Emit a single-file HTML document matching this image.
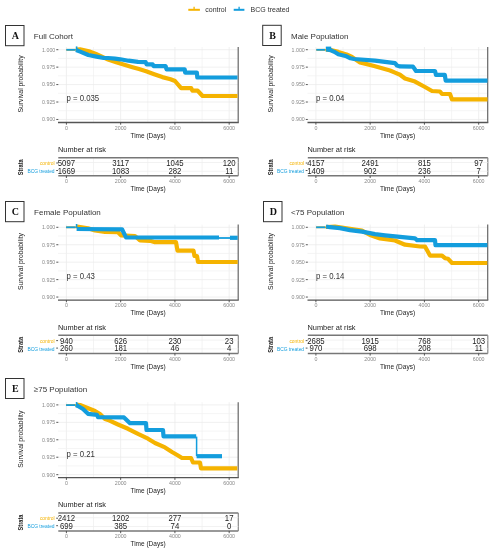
<!DOCTYPE html>
<html><head><meta charset="utf-8"><style>
html,body{margin:0;padding:0;background:#fff;width:493px;height:550px;overflow:hidden}
svg{display:block;filter:blur(0.3px)}

</style></head><body>
<svg width="493" height="550" viewBox="0 0 493 550">
<rect width="493" height="550" fill="#fff"/>
<line x1="188.3" y1="9.8" x2="199.9" y2="9.8" stroke="#f5b300" stroke-width="2"/>
<line x1="194.1" y1="6.8" x2="194.1" y2="9.8" stroke="#f5b300" stroke-width="1.3"/>
<text x="205.3" y="12.3" font-size="7" fill="#333" text-anchor="start" font-weight="normal" font-family='"Liberation Sans", sans-serif' >control</text>
<line x1="233.7" y1="9.8" x2="244.4" y2="9.8" stroke="#139ddd" stroke-width="2"/>
<line x1="239.1" y1="6.8" x2="239.1" y2="9.8" stroke="#139ddd" stroke-width="1.3"/>
<text x="250.6" y="12.3" font-size="7" fill="#333" text-anchor="start" font-weight="normal" font-family='"Liberation Sans", sans-serif' >BCG treated</text>
<line x1="66.4" y1="47" x2="66.4" y2="122.5" stroke="#e9e9e9" stroke-width="0.7"/>
<line x1="93.53" y1="47" x2="93.53" y2="122.5" stroke="#f0f0f0" stroke-width="0.7"/>
<line x1="120.66" y1="47" x2="120.66" y2="122.5" stroke="#e9e9e9" stroke-width="0.7"/>
<line x1="147.79" y1="47" x2="147.79" y2="122.5" stroke="#f0f0f0" stroke-width="0.7"/>
<line x1="174.92" y1="47" x2="174.92" y2="122.5" stroke="#e9e9e9" stroke-width="0.7"/>
<line x1="202.05" y1="47" x2="202.05" y2="122.5" stroke="#f0f0f0" stroke-width="0.7"/>
<line x1="229.18" y1="47" x2="229.18" y2="122.5" stroke="#e9e9e9" stroke-width="0.7"/>
<line x1="58" y1="49.7" x2="238.2" y2="49.7" stroke="#e9e9e9" stroke-width="0.7"/>
<line x1="58" y1="67.14" x2="238.2" y2="67.14" stroke="#e9e9e9" stroke-width="0.7"/>
<line x1="58" y1="84.58" x2="238.2" y2="84.58" stroke="#e9e9e9" stroke-width="0.7"/>
<line x1="58" y1="102.02" x2="238.2" y2="102.02" stroke="#e9e9e9" stroke-width="0.7"/>
<line x1="58" y1="119.46" x2="238.2" y2="119.46" stroke="#e9e9e9" stroke-width="0.7"/>
<line x1="58" y1="58.42" x2="238.2" y2="58.42" stroke="#f0f0f0" stroke-width="0.7"/>
<line x1="58" y1="75.86" x2="238.2" y2="75.86" stroke="#f0f0f0" stroke-width="0.7"/>
<line x1="58" y1="93.3" x2="238.2" y2="93.3" stroke="#f0f0f0" stroke-width="0.7"/>
<line x1="58" y1="110.74" x2="238.2" y2="110.74" stroke="#f0f0f0" stroke-width="0.7"/>
<line x1="58" y1="122.5" x2="238.8" y2="122.5" stroke="#555" stroke-width="1.3"/>
<line x1="238.2" y1="47" x2="238.2" y2="122.5" stroke="#666" stroke-width="1.2"/>
<line x1="56.3" y1="49.7" x2="58.3" y2="49.7" stroke="#444" stroke-width="0.9"/>
<text x="55.3" y="51.6" font-size="5.3" fill="#888" text-anchor="end" font-weight="normal" font-family='"Liberation Sans", sans-serif' >1.000</text>
<line x1="56.3" y1="67.14" x2="58.3" y2="67.14" stroke="#444" stroke-width="0.9"/>
<text x="55.3" y="69.04" font-size="5.3" fill="#888" text-anchor="end" font-weight="normal" font-family='"Liberation Sans", sans-serif' >0.975</text>
<line x1="56.3" y1="84.58" x2="58.3" y2="84.58" stroke="#444" stroke-width="0.9"/>
<text x="55.3" y="86.48" font-size="5.3" fill="#888" text-anchor="end" font-weight="normal" font-family='"Liberation Sans", sans-serif' >0.950</text>
<line x1="56.3" y1="102.02" x2="58.3" y2="102.02" stroke="#444" stroke-width="0.9"/>
<text x="55.3" y="103.92" font-size="5.3" fill="#888" text-anchor="end" font-weight="normal" font-family='"Liberation Sans", sans-serif' >0.925</text>
<line x1="56.3" y1="119.46" x2="58.3" y2="119.46" stroke="#444" stroke-width="0.9"/>
<text x="55.3" y="121.36" font-size="5.3" fill="#888" text-anchor="end" font-weight="normal" font-family='"Liberation Sans", sans-serif' >0.900</text>
<line x1="66.4" y1="122.5" x2="66.4" y2="124.7" stroke="#444" stroke-width="0.9"/>
<text x="66.4" y="129.8" font-size="5.3" fill="#888" text-anchor="middle" font-weight="normal" font-family='"Liberation Sans", sans-serif' >0</text>
<line x1="120.66" y1="122.5" x2="120.66" y2="124.7" stroke="#444" stroke-width="0.9"/>
<text x="120.66" y="129.8" font-size="5.3" fill="#888" text-anchor="middle" font-weight="normal" font-family='"Liberation Sans", sans-serif' >2000</text>
<line x1="174.92" y1="122.5" x2="174.92" y2="124.7" stroke="#444" stroke-width="0.9"/>
<text x="174.92" y="129.8" font-size="5.3" fill="#888" text-anchor="middle" font-weight="normal" font-family='"Liberation Sans", sans-serif' >4000</text>
<line x1="229.18" y1="122.5" x2="229.18" y2="124.7" stroke="#444" stroke-width="0.9"/>
<text x="229.18" y="129.8" font-size="5.3" fill="#888" text-anchor="middle" font-weight="normal" font-family='"Liberation Sans", sans-serif' >6000</text>
<text x="148" y="137.8" font-size="6.5" fill="#222" text-anchor="middle" font-weight="normal" font-family='"Liberation Sans", sans-serif' >Time (Days)</text>
<text transform="translate(23.2,84) rotate(-90)" font-size="6.8" fill="#1a1a1a" text-anchor="middle" font-family='"Liberation Sans", sans-serif'>Survival probability</text>
<text transform="translate(66.5,101.3) scale(1,1.12)" font-size="7.8" fill="#333" text-anchor="start" font-weight="normal" font-family='"Liberation Sans", sans-serif' >p = 0.035</text>
<text transform="translate(58,151.9) scale(1,1.08)" font-size="7.4" fill="#222" text-anchor="start" font-weight="normal" font-family='"Liberation Sans", sans-serif' >Number at risk</text>
<line x1="66.4" y1="157.7" x2="66.4" y2="175.8" stroke="#eeeeee" stroke-width="0.7"/>
<line x1="93.53" y1="157.7" x2="93.53" y2="175.8" stroke="#eeeeee" stroke-width="0.7"/>
<line x1="120.66" y1="157.7" x2="120.66" y2="175.8" stroke="#eeeeee" stroke-width="0.7"/>
<line x1="147.79" y1="157.7" x2="147.79" y2="175.8" stroke="#eeeeee" stroke-width="0.7"/>
<line x1="174.92" y1="157.7" x2="174.92" y2="175.8" stroke="#eeeeee" stroke-width="0.7"/>
<line x1="202.05" y1="157.7" x2="202.05" y2="175.8" stroke="#eeeeee" stroke-width="0.7"/>
<line x1="229.18" y1="157.7" x2="229.18" y2="175.8" stroke="#eeeeee" stroke-width="0.7"/>
<line x1="58.3" y1="157.7" x2="238.3" y2="157.7" stroke="#777" stroke-width="1.5"/>
<line x1="58.3" y1="175.8" x2="238.3" y2="175.8" stroke="#777" stroke-width="1.5"/>
<line x1="238.3" y1="157.7" x2="238.3" y2="175.8" stroke="#888" stroke-width="1.2"/>
<line x1="58.3" y1="162.5" x2="238.3" y2="162.5" stroke="#ededed" stroke-width="0.7"/>
<line x1="58.3" y1="171.3" x2="238.3" y2="171.3" stroke="#ededed" stroke-width="0.7"/>
<line x1="56.2" y1="163" x2="58" y2="163" stroke="#444" stroke-width="0.9"/>
<text transform="translate(66.4,166) scale(1,1.13)" font-size="7.8" fill="#222" text-anchor="middle" font-weight="normal" font-family='"Liberation Sans", sans-serif' >5097</text>
<text transform="translate(120.66,166) scale(1,1.13)" font-size="7.8" fill="#222" text-anchor="middle" font-weight="normal" font-family='"Liberation Sans", sans-serif' >3117</text>
<text transform="translate(174.92,166) scale(1,1.13)" font-size="7.8" fill="#222" text-anchor="middle" font-weight="normal" font-family='"Liberation Sans", sans-serif' >1045</text>
<text transform="translate(229.18,166) scale(1,1.13)" font-size="7.8" fill="#222" text-anchor="middle" font-weight="normal" font-family='"Liberation Sans", sans-serif' >120</text>
<line x1="56.2" y1="170.5" x2="58" y2="170.5" stroke="#444" stroke-width="0.9"/>
<text transform="translate(66.4,173.5) scale(1,1.13)" font-size="7.8" fill="#222" text-anchor="middle" font-weight="normal" font-family='"Liberation Sans", sans-serif' >1669</text>
<text transform="translate(120.66,173.5) scale(1,1.13)" font-size="7.8" fill="#222" text-anchor="middle" font-weight="normal" font-family='"Liberation Sans", sans-serif' >1083</text>
<text transform="translate(174.92,173.5) scale(1,1.13)" font-size="7.8" fill="#222" text-anchor="middle" font-weight="normal" font-family='"Liberation Sans", sans-serif' >282</text>
<text transform="translate(229.18,173.5) scale(1,1.13)" font-size="7.8" fill="#222" text-anchor="middle" font-weight="normal" font-family='"Liberation Sans", sans-serif' >11</text>
<text x="54.6" y="164.95" font-size="4.9" fill="#f5b300" text-anchor="end" font-weight="normal" font-family='"Liberation Sans", sans-serif' >control</text>
<text x="54.6" y="173.25" font-size="4.9" fill="#139ddd" text-anchor="end" font-weight="normal" font-family='"Liberation Sans", sans-serif' >BCG treated</text>
<text transform="translate(23.4,167.3) rotate(-90) scale(1,1.22)" font-size="5.6" fill="#222" text-anchor="middle" font-weight="bold" font-family='"Liberation Sans", sans-serif'>Strata</text>
<line x1="66.4" y1="175.8" x2="66.4" y2="178" stroke="#444" stroke-width="0.9"/>
<text x="66.4" y="183" font-size="5.3" fill="#888" text-anchor="middle" font-weight="normal" font-family='"Liberation Sans", sans-serif' >0</text>
<line x1="120.66" y1="175.8" x2="120.66" y2="178" stroke="#444" stroke-width="0.9"/>
<text x="120.66" y="183" font-size="5.3" fill="#888" text-anchor="middle" font-weight="normal" font-family='"Liberation Sans", sans-serif' >2000</text>
<line x1="174.92" y1="175.8" x2="174.92" y2="178" stroke="#444" stroke-width="0.9"/>
<text x="174.92" y="183" font-size="5.3" fill="#888" text-anchor="middle" font-weight="normal" font-family='"Liberation Sans", sans-serif' >4000</text>
<line x1="229.18" y1="175.8" x2="229.18" y2="178" stroke="#444" stroke-width="0.9"/>
<text x="229.18" y="183" font-size="5.3" fill="#888" text-anchor="middle" font-weight="normal" font-family='"Liberation Sans", sans-serif' >6000</text>
<text x="148" y="191.1" font-size="6.5" fill="#222" text-anchor="middle" font-weight="normal" font-family='"Liberation Sans", sans-serif' >Time (Days)</text>
<line x1="315.9" y1="47" x2="315.9" y2="122.5" stroke="#e9e9e9" stroke-width="0.7"/>
<line x1="343.03" y1="47" x2="343.03" y2="122.5" stroke="#f0f0f0" stroke-width="0.7"/>
<line x1="370.16" y1="47" x2="370.16" y2="122.5" stroke="#e9e9e9" stroke-width="0.7"/>
<line x1="397.29" y1="47" x2="397.29" y2="122.5" stroke="#f0f0f0" stroke-width="0.7"/>
<line x1="424.42" y1="47" x2="424.42" y2="122.5" stroke="#e9e9e9" stroke-width="0.7"/>
<line x1="451.55" y1="47" x2="451.55" y2="122.5" stroke="#f0f0f0" stroke-width="0.7"/>
<line x1="478.68" y1="47" x2="478.68" y2="122.5" stroke="#e9e9e9" stroke-width="0.7"/>
<line x1="307.5" y1="49.7" x2="487.7" y2="49.7" stroke="#e9e9e9" stroke-width="0.7"/>
<line x1="307.5" y1="67.14" x2="487.7" y2="67.14" stroke="#e9e9e9" stroke-width="0.7"/>
<line x1="307.5" y1="84.58" x2="487.7" y2="84.58" stroke="#e9e9e9" stroke-width="0.7"/>
<line x1="307.5" y1="102.02" x2="487.7" y2="102.02" stroke="#e9e9e9" stroke-width="0.7"/>
<line x1="307.5" y1="119.46" x2="487.7" y2="119.46" stroke="#e9e9e9" stroke-width="0.7"/>
<line x1="307.5" y1="58.42" x2="487.7" y2="58.42" stroke="#f0f0f0" stroke-width="0.7"/>
<line x1="307.5" y1="75.86" x2="487.7" y2="75.86" stroke="#f0f0f0" stroke-width="0.7"/>
<line x1="307.5" y1="93.3" x2="487.7" y2="93.3" stroke="#f0f0f0" stroke-width="0.7"/>
<line x1="307.5" y1="110.74" x2="487.7" y2="110.74" stroke="#f0f0f0" stroke-width="0.7"/>
<line x1="307.5" y1="122.5" x2="488.3" y2="122.5" stroke="#555" stroke-width="1.3"/>
<line x1="487.7" y1="47" x2="487.7" y2="122.5" stroke="#666" stroke-width="1.2"/>
<line x1="305.8" y1="49.7" x2="307.8" y2="49.7" stroke="#444" stroke-width="0.9"/>
<text x="304.8" y="51.6" font-size="5.3" fill="#888" text-anchor="end" font-weight="normal" font-family='"Liberation Sans", sans-serif' >1.000</text>
<line x1="305.8" y1="67.14" x2="307.8" y2="67.14" stroke="#444" stroke-width="0.9"/>
<text x="304.8" y="69.04" font-size="5.3" fill="#888" text-anchor="end" font-weight="normal" font-family='"Liberation Sans", sans-serif' >0.975</text>
<line x1="305.8" y1="84.58" x2="307.8" y2="84.58" stroke="#444" stroke-width="0.9"/>
<text x="304.8" y="86.48" font-size="5.3" fill="#888" text-anchor="end" font-weight="normal" font-family='"Liberation Sans", sans-serif' >0.950</text>
<line x1="305.8" y1="102.02" x2="307.8" y2="102.02" stroke="#444" stroke-width="0.9"/>
<text x="304.8" y="103.92" font-size="5.3" fill="#888" text-anchor="end" font-weight="normal" font-family='"Liberation Sans", sans-serif' >0.925</text>
<line x1="305.8" y1="119.46" x2="307.8" y2="119.46" stroke="#444" stroke-width="0.9"/>
<text x="304.8" y="121.36" font-size="5.3" fill="#888" text-anchor="end" font-weight="normal" font-family='"Liberation Sans", sans-serif' >0.900</text>
<line x1="315.9" y1="122.5" x2="315.9" y2="124.7" stroke="#444" stroke-width="0.9"/>
<text x="315.9" y="129.8" font-size="5.3" fill="#888" text-anchor="middle" font-weight="normal" font-family='"Liberation Sans", sans-serif' >0</text>
<line x1="370.16" y1="122.5" x2="370.16" y2="124.7" stroke="#444" stroke-width="0.9"/>
<text x="370.16" y="129.8" font-size="5.3" fill="#888" text-anchor="middle" font-weight="normal" font-family='"Liberation Sans", sans-serif' >2000</text>
<line x1="424.42" y1="122.5" x2="424.42" y2="124.7" stroke="#444" stroke-width="0.9"/>
<text x="424.42" y="129.8" font-size="5.3" fill="#888" text-anchor="middle" font-weight="normal" font-family='"Liberation Sans", sans-serif' >4000</text>
<line x1="478.68" y1="122.5" x2="478.68" y2="124.7" stroke="#444" stroke-width="0.9"/>
<text x="478.68" y="129.8" font-size="5.3" fill="#888" text-anchor="middle" font-weight="normal" font-family='"Liberation Sans", sans-serif' >6000</text>
<text x="397.5" y="137.8" font-size="6.5" fill="#222" text-anchor="middle" font-weight="normal" font-family='"Liberation Sans", sans-serif' >Time (Days)</text>
<text transform="translate(272.7,84) rotate(-90)" font-size="6.8" fill="#1a1a1a" text-anchor="middle" font-family='"Liberation Sans", sans-serif'>Survival probability</text>
<text transform="translate(316,101.3) scale(1,1.12)" font-size="7.8" fill="#333" text-anchor="start" font-weight="normal" font-family='"Liberation Sans", sans-serif' >p = 0.04</text>
<text transform="translate(307.5,151.9) scale(1,1.08)" font-size="7.4" fill="#222" text-anchor="start" font-weight="normal" font-family='"Liberation Sans", sans-serif' >Number at risk</text>
<line x1="315.9" y1="157.7" x2="315.9" y2="175.8" stroke="#eeeeee" stroke-width="0.7"/>
<line x1="343.03" y1="157.7" x2="343.03" y2="175.8" stroke="#eeeeee" stroke-width="0.7"/>
<line x1="370.16" y1="157.7" x2="370.16" y2="175.8" stroke="#eeeeee" stroke-width="0.7"/>
<line x1="397.29" y1="157.7" x2="397.29" y2="175.8" stroke="#eeeeee" stroke-width="0.7"/>
<line x1="424.42" y1="157.7" x2="424.42" y2="175.8" stroke="#eeeeee" stroke-width="0.7"/>
<line x1="451.55" y1="157.7" x2="451.55" y2="175.8" stroke="#eeeeee" stroke-width="0.7"/>
<line x1="478.68" y1="157.7" x2="478.68" y2="175.8" stroke="#eeeeee" stroke-width="0.7"/>
<line x1="307.8" y1="157.7" x2="487.8" y2="157.7" stroke="#777" stroke-width="1.5"/>
<line x1="307.8" y1="175.8" x2="487.8" y2="175.8" stroke="#777" stroke-width="1.5"/>
<line x1="487.8" y1="157.7" x2="487.8" y2="175.8" stroke="#888" stroke-width="1.2"/>
<line x1="307.8" y1="162.5" x2="487.8" y2="162.5" stroke="#ededed" stroke-width="0.7"/>
<line x1="307.8" y1="171.3" x2="487.8" y2="171.3" stroke="#ededed" stroke-width="0.7"/>
<line x1="305.7" y1="163" x2="307.5" y2="163" stroke="#444" stroke-width="0.9"/>
<text transform="translate(315.9,166) scale(1,1.13)" font-size="7.8" fill="#222" text-anchor="middle" font-weight="normal" font-family='"Liberation Sans", sans-serif' >4157</text>
<text transform="translate(370.16,166) scale(1,1.13)" font-size="7.8" fill="#222" text-anchor="middle" font-weight="normal" font-family='"Liberation Sans", sans-serif' >2491</text>
<text transform="translate(424.42,166) scale(1,1.13)" font-size="7.8" fill="#222" text-anchor="middle" font-weight="normal" font-family='"Liberation Sans", sans-serif' >815</text>
<text transform="translate(478.68,166) scale(1,1.13)" font-size="7.8" fill="#222" text-anchor="middle" font-weight="normal" font-family='"Liberation Sans", sans-serif' >97</text>
<line x1="305.7" y1="170.5" x2="307.5" y2="170.5" stroke="#444" stroke-width="0.9"/>
<text transform="translate(315.9,173.5) scale(1,1.13)" font-size="7.8" fill="#222" text-anchor="middle" font-weight="normal" font-family='"Liberation Sans", sans-serif' >1409</text>
<text transform="translate(370.16,173.5) scale(1,1.13)" font-size="7.8" fill="#222" text-anchor="middle" font-weight="normal" font-family='"Liberation Sans", sans-serif' >902</text>
<text transform="translate(424.42,173.5) scale(1,1.13)" font-size="7.8" fill="#222" text-anchor="middle" font-weight="normal" font-family='"Liberation Sans", sans-serif' >236</text>
<text transform="translate(478.68,173.5) scale(1,1.13)" font-size="7.8" fill="#222" text-anchor="middle" font-weight="normal" font-family='"Liberation Sans", sans-serif' >7</text>
<text x="304.1" y="164.95" font-size="4.9" fill="#f5b300" text-anchor="end" font-weight="normal" font-family='"Liberation Sans", sans-serif' >control</text>
<text x="304.1" y="173.25" font-size="4.9" fill="#139ddd" text-anchor="end" font-weight="normal" font-family='"Liberation Sans", sans-serif' >BCG treated</text>
<text transform="translate(272.9,167.3) rotate(-90) scale(1,1.22)" font-size="5.6" fill="#222" text-anchor="middle" font-weight="bold" font-family='"Liberation Sans", sans-serif'>Strata</text>
<line x1="315.9" y1="175.8" x2="315.9" y2="178" stroke="#444" stroke-width="0.9"/>
<text x="315.9" y="183" font-size="5.3" fill="#888" text-anchor="middle" font-weight="normal" font-family='"Liberation Sans", sans-serif' >0</text>
<line x1="370.16" y1="175.8" x2="370.16" y2="178" stroke="#444" stroke-width="0.9"/>
<text x="370.16" y="183" font-size="5.3" fill="#888" text-anchor="middle" font-weight="normal" font-family='"Liberation Sans", sans-serif' >2000</text>
<line x1="424.42" y1="175.8" x2="424.42" y2="178" stroke="#444" stroke-width="0.9"/>
<text x="424.42" y="183" font-size="5.3" fill="#888" text-anchor="middle" font-weight="normal" font-family='"Liberation Sans", sans-serif' >4000</text>
<line x1="478.68" y1="175.8" x2="478.68" y2="178" stroke="#444" stroke-width="0.9"/>
<text x="478.68" y="183" font-size="5.3" fill="#888" text-anchor="middle" font-weight="normal" font-family='"Liberation Sans", sans-serif' >6000</text>
<text x="397.5" y="191.1" font-size="6.5" fill="#222" text-anchor="middle" font-weight="normal" font-family='"Liberation Sans", sans-serif' >Time (Days)</text>
<line x1="66.4" y1="224.6" x2="66.4" y2="300.1" stroke="#e9e9e9" stroke-width="0.7"/>
<line x1="93.53" y1="224.6" x2="93.53" y2="300.1" stroke="#f0f0f0" stroke-width="0.7"/>
<line x1="120.66" y1="224.6" x2="120.66" y2="300.1" stroke="#e9e9e9" stroke-width="0.7"/>
<line x1="147.79" y1="224.6" x2="147.79" y2="300.1" stroke="#f0f0f0" stroke-width="0.7"/>
<line x1="174.92" y1="224.6" x2="174.92" y2="300.1" stroke="#e9e9e9" stroke-width="0.7"/>
<line x1="202.05" y1="224.6" x2="202.05" y2="300.1" stroke="#f0f0f0" stroke-width="0.7"/>
<line x1="229.18" y1="224.6" x2="229.18" y2="300.1" stroke="#e9e9e9" stroke-width="0.7"/>
<line x1="58" y1="227.3" x2="238.2" y2="227.3" stroke="#e9e9e9" stroke-width="0.7"/>
<line x1="58" y1="244.74" x2="238.2" y2="244.74" stroke="#e9e9e9" stroke-width="0.7"/>
<line x1="58" y1="262.18" x2="238.2" y2="262.18" stroke="#e9e9e9" stroke-width="0.7"/>
<line x1="58" y1="279.62" x2="238.2" y2="279.62" stroke="#e9e9e9" stroke-width="0.7"/>
<line x1="58" y1="297.06" x2="238.2" y2="297.06" stroke="#e9e9e9" stroke-width="0.7"/>
<line x1="58" y1="236.02" x2="238.2" y2="236.02" stroke="#f0f0f0" stroke-width="0.7"/>
<line x1="58" y1="253.46" x2="238.2" y2="253.46" stroke="#f0f0f0" stroke-width="0.7"/>
<line x1="58" y1="270.9" x2="238.2" y2="270.9" stroke="#f0f0f0" stroke-width="0.7"/>
<line x1="58" y1="288.34" x2="238.2" y2="288.34" stroke="#f0f0f0" stroke-width="0.7"/>
<line x1="58" y1="300.1" x2="238.8" y2="300.1" stroke="#555" stroke-width="1.3"/>
<line x1="238.2" y1="224.6" x2="238.2" y2="300.1" stroke="#666" stroke-width="1.2"/>
<line x1="56.3" y1="227.3" x2="58.3" y2="227.3" stroke="#444" stroke-width="0.9"/>
<text x="55.3" y="229.2" font-size="5.3" fill="#888" text-anchor="end" font-weight="normal" font-family='"Liberation Sans", sans-serif' >1.000</text>
<line x1="56.3" y1="244.74" x2="58.3" y2="244.74" stroke="#444" stroke-width="0.9"/>
<text x="55.3" y="246.64" font-size="5.3" fill="#888" text-anchor="end" font-weight="normal" font-family='"Liberation Sans", sans-serif' >0.975</text>
<line x1="56.3" y1="262.18" x2="58.3" y2="262.18" stroke="#444" stroke-width="0.9"/>
<text x="55.3" y="264.08" font-size="5.3" fill="#888" text-anchor="end" font-weight="normal" font-family='"Liberation Sans", sans-serif' >0.950</text>
<line x1="56.3" y1="279.62" x2="58.3" y2="279.62" stroke="#444" stroke-width="0.9"/>
<text x="55.3" y="281.52" font-size="5.3" fill="#888" text-anchor="end" font-weight="normal" font-family='"Liberation Sans", sans-serif' >0.925</text>
<line x1="56.3" y1="297.06" x2="58.3" y2="297.06" stroke="#444" stroke-width="0.9"/>
<text x="55.3" y="298.96" font-size="5.3" fill="#888" text-anchor="end" font-weight="normal" font-family='"Liberation Sans", sans-serif' >0.900</text>
<line x1="66.4" y1="300.1" x2="66.4" y2="302.3" stroke="#444" stroke-width="0.9"/>
<text x="66.4" y="307.4" font-size="5.3" fill="#888" text-anchor="middle" font-weight="normal" font-family='"Liberation Sans", sans-serif' >0</text>
<line x1="120.66" y1="300.1" x2="120.66" y2="302.3" stroke="#444" stroke-width="0.9"/>
<text x="120.66" y="307.4" font-size="5.3" fill="#888" text-anchor="middle" font-weight="normal" font-family='"Liberation Sans", sans-serif' >2000</text>
<line x1="174.92" y1="300.1" x2="174.92" y2="302.3" stroke="#444" stroke-width="0.9"/>
<text x="174.92" y="307.4" font-size="5.3" fill="#888" text-anchor="middle" font-weight="normal" font-family='"Liberation Sans", sans-serif' >4000</text>
<line x1="229.18" y1="300.1" x2="229.18" y2="302.3" stroke="#444" stroke-width="0.9"/>
<text x="229.18" y="307.4" font-size="5.3" fill="#888" text-anchor="middle" font-weight="normal" font-family='"Liberation Sans", sans-serif' >6000</text>
<text x="148" y="315.4" font-size="6.5" fill="#222" text-anchor="middle" font-weight="normal" font-family='"Liberation Sans", sans-serif' >Time (Days)</text>
<text transform="translate(23.2,261.6) rotate(-90)" font-size="6.8" fill="#1a1a1a" text-anchor="middle" font-family='"Liberation Sans", sans-serif'>Survival probability</text>
<text transform="translate(66.5,278.9) scale(1,1.12)" font-size="7.8" fill="#333" text-anchor="start" font-weight="normal" font-family='"Liberation Sans", sans-serif' >p = 0.43</text>
<text transform="translate(58,329.5) scale(1,1.08)" font-size="7.4" fill="#222" text-anchor="start" font-weight="normal" font-family='"Liberation Sans", sans-serif' >Number at risk</text>
<line x1="66.4" y1="335.3" x2="66.4" y2="353.4" stroke="#eeeeee" stroke-width="0.7"/>
<line x1="93.53" y1="335.3" x2="93.53" y2="353.4" stroke="#eeeeee" stroke-width="0.7"/>
<line x1="120.66" y1="335.3" x2="120.66" y2="353.4" stroke="#eeeeee" stroke-width="0.7"/>
<line x1="147.79" y1="335.3" x2="147.79" y2="353.4" stroke="#eeeeee" stroke-width="0.7"/>
<line x1="174.92" y1="335.3" x2="174.92" y2="353.4" stroke="#eeeeee" stroke-width="0.7"/>
<line x1="202.05" y1="335.3" x2="202.05" y2="353.4" stroke="#eeeeee" stroke-width="0.7"/>
<line x1="229.18" y1="335.3" x2="229.18" y2="353.4" stroke="#eeeeee" stroke-width="0.7"/>
<line x1="58.3" y1="335.3" x2="238.3" y2="335.3" stroke="#777" stroke-width="1.5"/>
<line x1="58.3" y1="353.4" x2="238.3" y2="353.4" stroke="#777" stroke-width="1.5"/>
<line x1="238.3" y1="335.3" x2="238.3" y2="353.4" stroke="#888" stroke-width="1.2"/>
<line x1="58.3" y1="340.1" x2="238.3" y2="340.1" stroke="#ededed" stroke-width="0.7"/>
<line x1="58.3" y1="348.9" x2="238.3" y2="348.9" stroke="#ededed" stroke-width="0.7"/>
<line x1="56.2" y1="340.6" x2="58" y2="340.6" stroke="#444" stroke-width="0.9"/>
<text transform="translate(66.4,343.6) scale(1,1.13)" font-size="7.8" fill="#222" text-anchor="middle" font-weight="normal" font-family='"Liberation Sans", sans-serif' >940</text>
<text transform="translate(120.66,343.6) scale(1,1.13)" font-size="7.8" fill="#222" text-anchor="middle" font-weight="normal" font-family='"Liberation Sans", sans-serif' >626</text>
<text transform="translate(174.92,343.6) scale(1,1.13)" font-size="7.8" fill="#222" text-anchor="middle" font-weight="normal" font-family='"Liberation Sans", sans-serif' >230</text>
<text transform="translate(229.18,343.6) scale(1,1.13)" font-size="7.8" fill="#222" text-anchor="middle" font-weight="normal" font-family='"Liberation Sans", sans-serif' >23</text>
<line x1="56.2" y1="348.1" x2="58" y2="348.1" stroke="#444" stroke-width="0.9"/>
<text transform="translate(66.4,351.1) scale(1,1.13)" font-size="7.8" fill="#222" text-anchor="middle" font-weight="normal" font-family='"Liberation Sans", sans-serif' >260</text>
<text transform="translate(120.66,351.1) scale(1,1.13)" font-size="7.8" fill="#222" text-anchor="middle" font-weight="normal" font-family='"Liberation Sans", sans-serif' >181</text>
<text transform="translate(174.92,351.1) scale(1,1.13)" font-size="7.8" fill="#222" text-anchor="middle" font-weight="normal" font-family='"Liberation Sans", sans-serif' >46</text>
<text transform="translate(229.18,351.1) scale(1,1.13)" font-size="7.8" fill="#222" text-anchor="middle" font-weight="normal" font-family='"Liberation Sans", sans-serif' >4</text>
<text x="54.6" y="342.55" font-size="4.9" fill="#f5b300" text-anchor="end" font-weight="normal" font-family='"Liberation Sans", sans-serif' >control</text>
<text x="54.6" y="350.85" font-size="4.9" fill="#139ddd" text-anchor="end" font-weight="normal" font-family='"Liberation Sans", sans-serif' >BCG treated</text>
<text transform="translate(23.4,344.9) rotate(-90) scale(1,1.22)" font-size="5.6" fill="#222" text-anchor="middle" font-weight="bold" font-family='"Liberation Sans", sans-serif'>Strata</text>
<line x1="66.4" y1="353.4" x2="66.4" y2="355.6" stroke="#444" stroke-width="0.9"/>
<text x="66.4" y="360.6" font-size="5.3" fill="#888" text-anchor="middle" font-weight="normal" font-family='"Liberation Sans", sans-serif' >0</text>
<line x1="120.66" y1="353.4" x2="120.66" y2="355.6" stroke="#444" stroke-width="0.9"/>
<text x="120.66" y="360.6" font-size="5.3" fill="#888" text-anchor="middle" font-weight="normal" font-family='"Liberation Sans", sans-serif' >2000</text>
<line x1="174.92" y1="353.4" x2="174.92" y2="355.6" stroke="#444" stroke-width="0.9"/>
<text x="174.92" y="360.6" font-size="5.3" fill="#888" text-anchor="middle" font-weight="normal" font-family='"Liberation Sans", sans-serif' >4000</text>
<line x1="229.18" y1="353.4" x2="229.18" y2="355.6" stroke="#444" stroke-width="0.9"/>
<text x="229.18" y="360.6" font-size="5.3" fill="#888" text-anchor="middle" font-weight="normal" font-family='"Liberation Sans", sans-serif' >6000</text>
<text x="148" y="368.7" font-size="6.5" fill="#222" text-anchor="middle" font-weight="normal" font-family='"Liberation Sans", sans-serif' >Time (Days)</text>
<line x1="315.9" y1="224.6" x2="315.9" y2="300.1" stroke="#e9e9e9" stroke-width="0.7"/>
<line x1="343.03" y1="224.6" x2="343.03" y2="300.1" stroke="#f0f0f0" stroke-width="0.7"/>
<line x1="370.16" y1="224.6" x2="370.16" y2="300.1" stroke="#e9e9e9" stroke-width="0.7"/>
<line x1="397.29" y1="224.6" x2="397.29" y2="300.1" stroke="#f0f0f0" stroke-width="0.7"/>
<line x1="424.42" y1="224.6" x2="424.42" y2="300.1" stroke="#e9e9e9" stroke-width="0.7"/>
<line x1="451.55" y1="224.6" x2="451.55" y2="300.1" stroke="#f0f0f0" stroke-width="0.7"/>
<line x1="478.68" y1="224.6" x2="478.68" y2="300.1" stroke="#e9e9e9" stroke-width="0.7"/>
<line x1="307.5" y1="227.3" x2="487.7" y2="227.3" stroke="#e9e9e9" stroke-width="0.7"/>
<line x1="307.5" y1="244.74" x2="487.7" y2="244.74" stroke="#e9e9e9" stroke-width="0.7"/>
<line x1="307.5" y1="262.18" x2="487.7" y2="262.18" stroke="#e9e9e9" stroke-width="0.7"/>
<line x1="307.5" y1="279.62" x2="487.7" y2="279.62" stroke="#e9e9e9" stroke-width="0.7"/>
<line x1="307.5" y1="297.06" x2="487.7" y2="297.06" stroke="#e9e9e9" stroke-width="0.7"/>
<line x1="307.5" y1="236.02" x2="487.7" y2="236.02" stroke="#f0f0f0" stroke-width="0.7"/>
<line x1="307.5" y1="253.46" x2="487.7" y2="253.46" stroke="#f0f0f0" stroke-width="0.7"/>
<line x1="307.5" y1="270.9" x2="487.7" y2="270.9" stroke="#f0f0f0" stroke-width="0.7"/>
<line x1="307.5" y1="288.34" x2="487.7" y2="288.34" stroke="#f0f0f0" stroke-width="0.7"/>
<line x1="307.5" y1="300.1" x2="488.3" y2="300.1" stroke="#555" stroke-width="1.3"/>
<line x1="487.7" y1="224.6" x2="487.7" y2="300.1" stroke="#666" stroke-width="1.2"/>
<line x1="305.8" y1="227.3" x2="307.8" y2="227.3" stroke="#444" stroke-width="0.9"/>
<text x="304.8" y="229.2" font-size="5.3" fill="#888" text-anchor="end" font-weight="normal" font-family='"Liberation Sans", sans-serif' >1.000</text>
<line x1="305.8" y1="244.74" x2="307.8" y2="244.74" stroke="#444" stroke-width="0.9"/>
<text x="304.8" y="246.64" font-size="5.3" fill="#888" text-anchor="end" font-weight="normal" font-family='"Liberation Sans", sans-serif' >0.975</text>
<line x1="305.8" y1="262.18" x2="307.8" y2="262.18" stroke="#444" stroke-width="0.9"/>
<text x="304.8" y="264.08" font-size="5.3" fill="#888" text-anchor="end" font-weight="normal" font-family='"Liberation Sans", sans-serif' >0.950</text>
<line x1="305.8" y1="279.62" x2="307.8" y2="279.62" stroke="#444" stroke-width="0.9"/>
<text x="304.8" y="281.52" font-size="5.3" fill="#888" text-anchor="end" font-weight="normal" font-family='"Liberation Sans", sans-serif' >0.925</text>
<line x1="305.8" y1="297.06" x2="307.8" y2="297.06" stroke="#444" stroke-width="0.9"/>
<text x="304.8" y="298.96" font-size="5.3" fill="#888" text-anchor="end" font-weight="normal" font-family='"Liberation Sans", sans-serif' >0.900</text>
<line x1="315.9" y1="300.1" x2="315.9" y2="302.3" stroke="#444" stroke-width="0.9"/>
<text x="315.9" y="307.4" font-size="5.3" fill="#888" text-anchor="middle" font-weight="normal" font-family='"Liberation Sans", sans-serif' >0</text>
<line x1="370.16" y1="300.1" x2="370.16" y2="302.3" stroke="#444" stroke-width="0.9"/>
<text x="370.16" y="307.4" font-size="5.3" fill="#888" text-anchor="middle" font-weight="normal" font-family='"Liberation Sans", sans-serif' >2000</text>
<line x1="424.42" y1="300.1" x2="424.42" y2="302.3" stroke="#444" stroke-width="0.9"/>
<text x="424.42" y="307.4" font-size="5.3" fill="#888" text-anchor="middle" font-weight="normal" font-family='"Liberation Sans", sans-serif' >4000</text>
<line x1="478.68" y1="300.1" x2="478.68" y2="302.3" stroke="#444" stroke-width="0.9"/>
<text x="478.68" y="307.4" font-size="5.3" fill="#888" text-anchor="middle" font-weight="normal" font-family='"Liberation Sans", sans-serif' >6000</text>
<text x="397.5" y="315.4" font-size="6.5" fill="#222" text-anchor="middle" font-weight="normal" font-family='"Liberation Sans", sans-serif' >Time (Days)</text>
<text transform="translate(272.7,261.6) rotate(-90)" font-size="6.8" fill="#1a1a1a" text-anchor="middle" font-family='"Liberation Sans", sans-serif'>Survival probability</text>
<text transform="translate(316,278.9) scale(1,1.12)" font-size="7.8" fill="#333" text-anchor="start" font-weight="normal" font-family='"Liberation Sans", sans-serif' >p = 0.14</text>
<text transform="translate(307.5,329.5) scale(1,1.08)" font-size="7.4" fill="#222" text-anchor="start" font-weight="normal" font-family='"Liberation Sans", sans-serif' >Number at risk</text>
<line x1="315.9" y1="335.3" x2="315.9" y2="353.4" stroke="#eeeeee" stroke-width="0.7"/>
<line x1="343.03" y1="335.3" x2="343.03" y2="353.4" stroke="#eeeeee" stroke-width="0.7"/>
<line x1="370.16" y1="335.3" x2="370.16" y2="353.4" stroke="#eeeeee" stroke-width="0.7"/>
<line x1="397.29" y1="335.3" x2="397.29" y2="353.4" stroke="#eeeeee" stroke-width="0.7"/>
<line x1="424.42" y1="335.3" x2="424.42" y2="353.4" stroke="#eeeeee" stroke-width="0.7"/>
<line x1="451.55" y1="335.3" x2="451.55" y2="353.4" stroke="#eeeeee" stroke-width="0.7"/>
<line x1="478.68" y1="335.3" x2="478.68" y2="353.4" stroke="#eeeeee" stroke-width="0.7"/>
<line x1="307.8" y1="335.3" x2="487.8" y2="335.3" stroke="#777" stroke-width="1.5"/>
<line x1="307.8" y1="353.4" x2="487.8" y2="353.4" stroke="#777" stroke-width="1.5"/>
<line x1="487.8" y1="335.3" x2="487.8" y2="353.4" stroke="#888" stroke-width="1.2"/>
<line x1="307.8" y1="340.1" x2="487.8" y2="340.1" stroke="#ededed" stroke-width="0.7"/>
<line x1="307.8" y1="348.9" x2="487.8" y2="348.9" stroke="#ededed" stroke-width="0.7"/>
<line x1="305.7" y1="340.6" x2="307.5" y2="340.6" stroke="#444" stroke-width="0.9"/>
<text transform="translate(315.9,343.6) scale(1,1.13)" font-size="7.8" fill="#222" text-anchor="middle" font-weight="normal" font-family='"Liberation Sans", sans-serif' >2685</text>
<text transform="translate(370.16,343.6) scale(1,1.13)" font-size="7.8" fill="#222" text-anchor="middle" font-weight="normal" font-family='"Liberation Sans", sans-serif' >1915</text>
<text transform="translate(424.42,343.6) scale(1,1.13)" font-size="7.8" fill="#222" text-anchor="middle" font-weight="normal" font-family='"Liberation Sans", sans-serif' >768</text>
<text transform="translate(478.68,343.6) scale(1,1.13)" font-size="7.8" fill="#222" text-anchor="middle" font-weight="normal" font-family='"Liberation Sans", sans-serif' >103</text>
<line x1="305.7" y1="348.1" x2="307.5" y2="348.1" stroke="#444" stroke-width="0.9"/>
<text transform="translate(315.9,351.1) scale(1,1.13)" font-size="7.8" fill="#222" text-anchor="middle" font-weight="normal" font-family='"Liberation Sans", sans-serif' >970</text>
<text transform="translate(370.16,351.1) scale(1,1.13)" font-size="7.8" fill="#222" text-anchor="middle" font-weight="normal" font-family='"Liberation Sans", sans-serif' >698</text>
<text transform="translate(424.42,351.1) scale(1,1.13)" font-size="7.8" fill="#222" text-anchor="middle" font-weight="normal" font-family='"Liberation Sans", sans-serif' >208</text>
<text transform="translate(478.68,351.1) scale(1,1.13)" font-size="7.8" fill="#222" text-anchor="middle" font-weight="normal" font-family='"Liberation Sans", sans-serif' >11</text>
<text x="304.1" y="342.55" font-size="4.9" fill="#f5b300" text-anchor="end" font-weight="normal" font-family='"Liberation Sans", sans-serif' >control</text>
<text x="304.1" y="350.85" font-size="4.9" fill="#139ddd" text-anchor="end" font-weight="normal" font-family='"Liberation Sans", sans-serif' >BCG treated</text>
<text transform="translate(272.9,344.9) rotate(-90) scale(1,1.22)" font-size="5.6" fill="#222" text-anchor="middle" font-weight="bold" font-family='"Liberation Sans", sans-serif'>Strata</text>
<line x1="315.9" y1="353.4" x2="315.9" y2="355.6" stroke="#444" stroke-width="0.9"/>
<text x="315.9" y="360.6" font-size="5.3" fill="#888" text-anchor="middle" font-weight="normal" font-family='"Liberation Sans", sans-serif' >0</text>
<line x1="370.16" y1="353.4" x2="370.16" y2="355.6" stroke="#444" stroke-width="0.9"/>
<text x="370.16" y="360.6" font-size="5.3" fill="#888" text-anchor="middle" font-weight="normal" font-family='"Liberation Sans", sans-serif' >2000</text>
<line x1="424.42" y1="353.4" x2="424.42" y2="355.6" stroke="#444" stroke-width="0.9"/>
<text x="424.42" y="360.6" font-size="5.3" fill="#888" text-anchor="middle" font-weight="normal" font-family='"Liberation Sans", sans-serif' >4000</text>
<line x1="478.68" y1="353.4" x2="478.68" y2="355.6" stroke="#444" stroke-width="0.9"/>
<text x="478.68" y="360.6" font-size="5.3" fill="#888" text-anchor="middle" font-weight="normal" font-family='"Liberation Sans", sans-serif' >6000</text>
<text x="397.5" y="368.7" font-size="6.5" fill="#222" text-anchor="middle" font-weight="normal" font-family='"Liberation Sans", sans-serif' >Time (Days)</text>
<line x1="66.4" y1="402.2" x2="66.4" y2="477.7" stroke="#e9e9e9" stroke-width="0.7"/>
<line x1="93.53" y1="402.2" x2="93.53" y2="477.7" stroke="#f0f0f0" stroke-width="0.7"/>
<line x1="120.66" y1="402.2" x2="120.66" y2="477.7" stroke="#e9e9e9" stroke-width="0.7"/>
<line x1="147.79" y1="402.2" x2="147.79" y2="477.7" stroke="#f0f0f0" stroke-width="0.7"/>
<line x1="174.92" y1="402.2" x2="174.92" y2="477.7" stroke="#e9e9e9" stroke-width="0.7"/>
<line x1="202.05" y1="402.2" x2="202.05" y2="477.7" stroke="#f0f0f0" stroke-width="0.7"/>
<line x1="229.18" y1="402.2" x2="229.18" y2="477.7" stroke="#e9e9e9" stroke-width="0.7"/>
<line x1="58" y1="404.9" x2="238.2" y2="404.9" stroke="#e9e9e9" stroke-width="0.7"/>
<line x1="58" y1="422.34" x2="238.2" y2="422.34" stroke="#e9e9e9" stroke-width="0.7"/>
<line x1="58" y1="439.78" x2="238.2" y2="439.78" stroke="#e9e9e9" stroke-width="0.7"/>
<line x1="58" y1="457.22" x2="238.2" y2="457.22" stroke="#e9e9e9" stroke-width="0.7"/>
<line x1="58" y1="474.66" x2="238.2" y2="474.66" stroke="#e9e9e9" stroke-width="0.7"/>
<line x1="58" y1="413.62" x2="238.2" y2="413.62" stroke="#f0f0f0" stroke-width="0.7"/>
<line x1="58" y1="431.06" x2="238.2" y2="431.06" stroke="#f0f0f0" stroke-width="0.7"/>
<line x1="58" y1="448.5" x2="238.2" y2="448.5" stroke="#f0f0f0" stroke-width="0.7"/>
<line x1="58" y1="465.94" x2="238.2" y2="465.94" stroke="#f0f0f0" stroke-width="0.7"/>
<line x1="58" y1="477.7" x2="238.8" y2="477.7" stroke="#555" stroke-width="1.3"/>
<line x1="238.2" y1="402.2" x2="238.2" y2="477.7" stroke="#666" stroke-width="1.2"/>
<line x1="56.3" y1="404.9" x2="58.3" y2="404.9" stroke="#444" stroke-width="0.9"/>
<text x="55.3" y="406.8" font-size="5.3" fill="#888" text-anchor="end" font-weight="normal" font-family='"Liberation Sans", sans-serif' >1.000</text>
<line x1="56.3" y1="422.34" x2="58.3" y2="422.34" stroke="#444" stroke-width="0.9"/>
<text x="55.3" y="424.24" font-size="5.3" fill="#888" text-anchor="end" font-weight="normal" font-family='"Liberation Sans", sans-serif' >0.975</text>
<line x1="56.3" y1="439.78" x2="58.3" y2="439.78" stroke="#444" stroke-width="0.9"/>
<text x="55.3" y="441.68" font-size="5.3" fill="#888" text-anchor="end" font-weight="normal" font-family='"Liberation Sans", sans-serif' >0.950</text>
<line x1="56.3" y1="457.22" x2="58.3" y2="457.22" stroke="#444" stroke-width="0.9"/>
<text x="55.3" y="459.12" font-size="5.3" fill="#888" text-anchor="end" font-weight="normal" font-family='"Liberation Sans", sans-serif' >0.925</text>
<line x1="56.3" y1="474.66" x2="58.3" y2="474.66" stroke="#444" stroke-width="0.9"/>
<text x="55.3" y="476.56" font-size="5.3" fill="#888" text-anchor="end" font-weight="normal" font-family='"Liberation Sans", sans-serif' >0.900</text>
<line x1="66.4" y1="477.7" x2="66.4" y2="479.9" stroke="#444" stroke-width="0.9"/>
<text x="66.4" y="485" font-size="5.3" fill="#888" text-anchor="middle" font-weight="normal" font-family='"Liberation Sans", sans-serif' >0</text>
<line x1="120.66" y1="477.7" x2="120.66" y2="479.9" stroke="#444" stroke-width="0.9"/>
<text x="120.66" y="485" font-size="5.3" fill="#888" text-anchor="middle" font-weight="normal" font-family='"Liberation Sans", sans-serif' >2000</text>
<line x1="174.92" y1="477.7" x2="174.92" y2="479.9" stroke="#444" stroke-width="0.9"/>
<text x="174.92" y="485" font-size="5.3" fill="#888" text-anchor="middle" font-weight="normal" font-family='"Liberation Sans", sans-serif' >4000</text>
<line x1="229.18" y1="477.7" x2="229.18" y2="479.9" stroke="#444" stroke-width="0.9"/>
<text x="229.18" y="485" font-size="5.3" fill="#888" text-anchor="middle" font-weight="normal" font-family='"Liberation Sans", sans-serif' >6000</text>
<text x="148" y="493" font-size="6.5" fill="#222" text-anchor="middle" font-weight="normal" font-family='"Liberation Sans", sans-serif' >Time (Days)</text>
<text transform="translate(23.2,439.2) rotate(-90)" font-size="6.8" fill="#1a1a1a" text-anchor="middle" font-family='"Liberation Sans", sans-serif'>Survival probability</text>
<text transform="translate(66.5,456.5) scale(1,1.12)" font-size="7.8" fill="#333" text-anchor="start" font-weight="normal" font-family='"Liberation Sans", sans-serif' >p = 0.21</text>
<text transform="translate(58,507.1) scale(1,1.08)" font-size="7.4" fill="#222" text-anchor="start" font-weight="normal" font-family='"Liberation Sans", sans-serif' >Number at risk</text>
<line x1="66.4" y1="512.9" x2="66.4" y2="531" stroke="#eeeeee" stroke-width="0.7"/>
<line x1="93.53" y1="512.9" x2="93.53" y2="531" stroke="#eeeeee" stroke-width="0.7"/>
<line x1="120.66" y1="512.9" x2="120.66" y2="531" stroke="#eeeeee" stroke-width="0.7"/>
<line x1="147.79" y1="512.9" x2="147.79" y2="531" stroke="#eeeeee" stroke-width="0.7"/>
<line x1="174.92" y1="512.9" x2="174.92" y2="531" stroke="#eeeeee" stroke-width="0.7"/>
<line x1="202.05" y1="512.9" x2="202.05" y2="531" stroke="#eeeeee" stroke-width="0.7"/>
<line x1="229.18" y1="512.9" x2="229.18" y2="531" stroke="#eeeeee" stroke-width="0.7"/>
<line x1="58.3" y1="512.9" x2="238.3" y2="512.9" stroke="#777" stroke-width="1.5"/>
<line x1="58.3" y1="531" x2="238.3" y2="531" stroke="#777" stroke-width="1.5"/>
<line x1="238.3" y1="512.9" x2="238.3" y2="531" stroke="#888" stroke-width="1.2"/>
<line x1="58.3" y1="517.7" x2="238.3" y2="517.7" stroke="#ededed" stroke-width="0.7"/>
<line x1="58.3" y1="526.5" x2="238.3" y2="526.5" stroke="#ededed" stroke-width="0.7"/>
<line x1="56.2" y1="518.2" x2="58" y2="518.2" stroke="#444" stroke-width="0.9"/>
<text transform="translate(66.4,521.2) scale(1,1.13)" font-size="7.8" fill="#222" text-anchor="middle" font-weight="normal" font-family='"Liberation Sans", sans-serif' >2412</text>
<text transform="translate(120.66,521.2) scale(1,1.13)" font-size="7.8" fill="#222" text-anchor="middle" font-weight="normal" font-family='"Liberation Sans", sans-serif' >1202</text>
<text transform="translate(174.92,521.2) scale(1,1.13)" font-size="7.8" fill="#222" text-anchor="middle" font-weight="normal" font-family='"Liberation Sans", sans-serif' >277</text>
<text transform="translate(229.18,521.2) scale(1,1.13)" font-size="7.8" fill="#222" text-anchor="middle" font-weight="normal" font-family='"Liberation Sans", sans-serif' >17</text>
<line x1="56.2" y1="525.7" x2="58" y2="525.7" stroke="#444" stroke-width="0.9"/>
<text transform="translate(66.4,528.7) scale(1,1.13)" font-size="7.8" fill="#222" text-anchor="middle" font-weight="normal" font-family='"Liberation Sans", sans-serif' >699</text>
<text transform="translate(120.66,528.7) scale(1,1.13)" font-size="7.8" fill="#222" text-anchor="middle" font-weight="normal" font-family='"Liberation Sans", sans-serif' >385</text>
<text transform="translate(174.92,528.7) scale(1,1.13)" font-size="7.8" fill="#222" text-anchor="middle" font-weight="normal" font-family='"Liberation Sans", sans-serif' >74</text>
<text transform="translate(229.18,528.7) scale(1,1.13)" font-size="7.8" fill="#222" text-anchor="middle" font-weight="normal" font-family='"Liberation Sans", sans-serif' >0</text>
<text x="54.6" y="520.15" font-size="4.9" fill="#f5b300" text-anchor="end" font-weight="normal" font-family='"Liberation Sans", sans-serif' >control</text>
<text x="54.6" y="528.45" font-size="4.9" fill="#139ddd" text-anchor="end" font-weight="normal" font-family='"Liberation Sans", sans-serif' >BCG treated</text>
<text transform="translate(23.4,522.5) rotate(-90) scale(1,1.22)" font-size="5.6" fill="#222" text-anchor="middle" font-weight="bold" font-family='"Liberation Sans", sans-serif'>Strata</text>
<line x1="66.4" y1="531" x2="66.4" y2="533.2" stroke="#444" stroke-width="0.9"/>
<text x="66.4" y="538.2" font-size="5.3" fill="#888" text-anchor="middle" font-weight="normal" font-family='"Liberation Sans", sans-serif' >0</text>
<line x1="120.66" y1="531" x2="120.66" y2="533.2" stroke="#444" stroke-width="0.9"/>
<text x="120.66" y="538.2" font-size="5.3" fill="#888" text-anchor="middle" font-weight="normal" font-family='"Liberation Sans", sans-serif' >2000</text>
<line x1="174.92" y1="531" x2="174.92" y2="533.2" stroke="#444" stroke-width="0.9"/>
<text x="174.92" y="538.2" font-size="5.3" fill="#888" text-anchor="middle" font-weight="normal" font-family='"Liberation Sans", sans-serif' >4000</text>
<line x1="229.18" y1="531" x2="229.18" y2="533.2" stroke="#444" stroke-width="0.9"/>
<text x="229.18" y="538.2" font-size="5.3" fill="#888" text-anchor="middle" font-weight="normal" font-family='"Liberation Sans", sans-serif' >6000</text>
<text x="148" y="546.3" font-size="6.5" fill="#222" text-anchor="middle" font-weight="normal" font-family='"Liberation Sans", sans-serif' >Time (Days)</text>
<rect x="5.5" y="25.5" width="18.5" height="20.2" fill="none" stroke="#333" stroke-width="1"/>
<text x="15.45" y="38.7" font-size="10" fill="#111" text-anchor="middle" font-weight="bold" font-family='"Liberation Serif", serif' >A</text>
<text x="33.8" y="39.1" font-size="8" fill="#333" text-anchor="start" font-weight="normal" font-family='"Liberation Sans", sans-serif' >Full Cohort</text>
<rect x="262.7" y="25.3" width="18.5" height="20.2" fill="none" stroke="#333" stroke-width="1"/>
<text x="272.65" y="38.5" font-size="10" fill="#111" text-anchor="middle" font-weight="bold" font-family='"Liberation Serif", serif' >B</text>
<text x="291" y="38.9" font-size="8" fill="#333" text-anchor="start" font-weight="normal" font-family='"Liberation Sans", sans-serif' >Male Population</text>
<rect x="5.5" y="201.5" width="18.5" height="20.2" fill="none" stroke="#333" stroke-width="1"/>
<text x="15.45" y="214.7" font-size="10" fill="#111" text-anchor="middle" font-weight="bold" font-family='"Liberation Serif", serif' >C</text>
<text x="34.1" y="215.1" font-size="8" fill="#333" text-anchor="start" font-weight="normal" font-family='"Liberation Sans", sans-serif' >Female Population</text>
<rect x="263.5" y="201.5" width="18.5" height="20.2" fill="none" stroke="#333" stroke-width="1"/>
<text x="273.45" y="214.7" font-size="10" fill="#111" text-anchor="middle" font-weight="bold" font-family='"Liberation Serif", serif' >D</text>
<text x="290.9" y="215.1" font-size="8" fill="#333" text-anchor="start" font-weight="normal" font-family='"Liberation Sans", sans-serif' >&lt;75 Population</text>
<rect x="5.5" y="378.5" width="18.5" height="20" fill="none" stroke="#333" stroke-width="1"/>
<text x="15.45" y="391.7" font-size="10" fill="#111" text-anchor="middle" font-weight="bold" font-family='"Liberation Serif", serif' >E</text>
<text x="33.8" y="392.1" font-size="8" fill="#333" text-anchor="start" font-weight="normal" font-family='"Liberation Sans", sans-serif' >≥75 Population</text>
<path d="M66.3 49.8 L76.5 49.8" fill="none" stroke="#f5b300" stroke-width="1.8" stroke-linejoin="round"/>
<path d="M76 49.6 L80 49.3 L90 51.6 L96 54 L104 57.6 L108.1 59.6 L116.2 62.3 L124.3 64.8 L132.5 67.2 L139 69 L146.1 71.2 L154.2 74.2 L162.3 77.1 L170.5 79.2 L175 81 L181.1 88.2 L191.2 88.2 L192.4 90.7 L197.7 90.7 L202.6 96 L237.5 96" fill="none" stroke="#f5b300" stroke-width="4.2" stroke-linejoin="round"/>
<path d="M66.3 49.8 L75.5 49.8" fill="none" stroke="#139ddd" stroke-width="1.8" stroke-linejoin="round"/>
<line x1="76.6" y1="46.4" x2="76.6" y2="50" stroke="#139ddd" stroke-width="1.6"/>
<path d="M76 50 L80.2 51.6 L88.3 55 L96.5 56.6 L103.8 58 L108.1 58 L115 58.7 L120.3 59.3 L128.4 60.7 L138 61.9 L145.7 62.2 L146.5 64.3 L152.6 64.3 L153.5 66.1 L165.6 66.1 L166.5 69.3 L184.7 69.3 L185.2 72.7 L196.9 72.7 L197.3 77.5 L237.5 77.5" fill="none" stroke="#139ddd" stroke-width="4.2" stroke-linejoin="round"/>
<path d="M316.3 49.8 L326.5 49.8" fill="none" stroke="#f5b300" stroke-width="1.8" stroke-linejoin="round"/>
<path d="M326 49.6 L331.8 50.2 L338.3 51.9 L346.5 54.4 L352 57 L360 62.4 L375 66.2 L390 70.5 L395 72.7 L400 74.8 L405 78.5 L415 81.6 L425 87 L432 91 L440 91.5 L442 94 L450 94 L452 99.4 L487.5 99.4" fill="none" stroke="#f5b300" stroke-width="4.2" stroke-linejoin="round"/>
<path d="M316.3 49.8 L325 49.8" fill="none" stroke="#139ddd" stroke-width="1.8" stroke-linejoin="round"/>
<rect x="325.8" y="46.6" width="5.4" height="3" fill="#139ddd"/>
<path d="M326 49.5 L331 50.3 L334.3 51.8 L338.3 54.3 L342.4 55.2 L346.5 56.3 L350.5 58.3 L354 59 L375 60.6 L395 63.2 L397 65.5 L400 66.4 L413 66.6 L416 71 L435 71 L436 74.9 L444.8 74.9 L445.7 80.6 L487.5 80.6" fill="none" stroke="#139ddd" stroke-width="4.2" stroke-linejoin="round"/>
<path d="M66.1 227.3 L78 227.3" fill="none" stroke="#f5b300" stroke-width="1.8" stroke-linejoin="round"/>
<path d="M77 226.6 L88 228.3 L95 230.5 L105 231.8 L118 232.2 L121 235.3 L135 236 L140 240.3 L150 240.8 L155 242.2 L176 242.2 L177.5 250.7 L193.5 250.7 L194.5 256 L197 256 L198 262 L237.7 262" fill="none" stroke="#f5b300" stroke-width="4.2" stroke-linejoin="round"/>
<path d="M66.1 227.3 L75.5 227.3" fill="none" stroke="#139ddd" stroke-width="1.8" stroke-linejoin="round"/>
<line x1="76.6" y1="224" x2="76.6" y2="228" stroke="#139ddd" stroke-width="1.6"/>
<path d="M76.6 229 L122 229.3 L126 237.4 L219 237.5" fill="none" stroke="#139ddd" stroke-width="4.2" stroke-linejoin="round"/>
<path d="M219 238 L230 238" fill="none" stroke="#139ddd" stroke-width="1.8" stroke-linejoin="round"/>
<path d="M230 237.8 L237.7 237.8" fill="none" stroke="#139ddd" stroke-width="4.2" stroke-linejoin="round"/>
<path d="M316.1 227.3 L326 227.3" fill="none" stroke="#f5b300" stroke-width="1.8" stroke-linejoin="round"/>
<path d="M326 227 L335 226.6 L345 228 L355 229.6 L362 230.6 L370 235 L380 238.4 L395 240.5 L405 244.7 L420 246.5 L425 246.6 L430 255.6 L442 255.6 L445 258.2 L448 258.8 L452 263 L487.3 263" fill="none" stroke="#f5b300" stroke-width="4.2" stroke-linejoin="round"/>
<path d="M316.1 227.3 L325.2 227.3" fill="none" stroke="#139ddd" stroke-width="1.8" stroke-linejoin="round"/>
<path d="M326 226.5 L330 227.2 L340 228.1 L350 230.1 L362 231.6 L375 234.1 L385 235.3 L400 236.9 L415 238.4 L417 240.1 L435 240.1 L435.5 245.2 L487.3 245.2" fill="none" stroke="#139ddd" stroke-width="4.2" stroke-linejoin="round"/>
<path d="M66.1 405.1 L76.5 405.1" fill="none" stroke="#f5b300" stroke-width="1.8" stroke-linejoin="round"/>
<path d="M76 404.6 L80 405 L90 409 L95 411 L100 414 L105 419 L108 419.9 L118 424.5 L128 428.8 L138 433.9 L148 438.7 L155 443 L165 447.4 L172 452 L178 455.5 L182 458 L191 458 L193 462.5 L200 462.5 L201 468.3 L237.3 468.3" fill="none" stroke="#f5b300" stroke-width="4.2" stroke-linejoin="round"/>
<path d="M66.1 405.1 L75.2 405.1" fill="none" stroke="#139ddd" stroke-width="1.8" stroke-linejoin="round"/>
<line x1="76.6" y1="402" x2="76.6" y2="406" stroke="#139ddd" stroke-width="1.6"/>
<path d="M76 405 L78 406 L83 409 L88 413.8 L97 414.8 L98 417.2 L124 417.4 L130 423.2 L146 423.2 L146.5 430 L163 430 L163.5 436.3 L196.2 436.3" fill="none" stroke="#139ddd" stroke-width="4.2" stroke-linejoin="round"/>
<path d="M196.6 436.6 L196.6 456.2" fill="none" stroke="#139ddd" stroke-width="1.5" stroke-linejoin="round"/>
<path d="M196.6 456.2 L222 456.2" fill="none" stroke="#139ddd" stroke-width="4.2" stroke-linejoin="round"/>
</svg>
</body></html>
